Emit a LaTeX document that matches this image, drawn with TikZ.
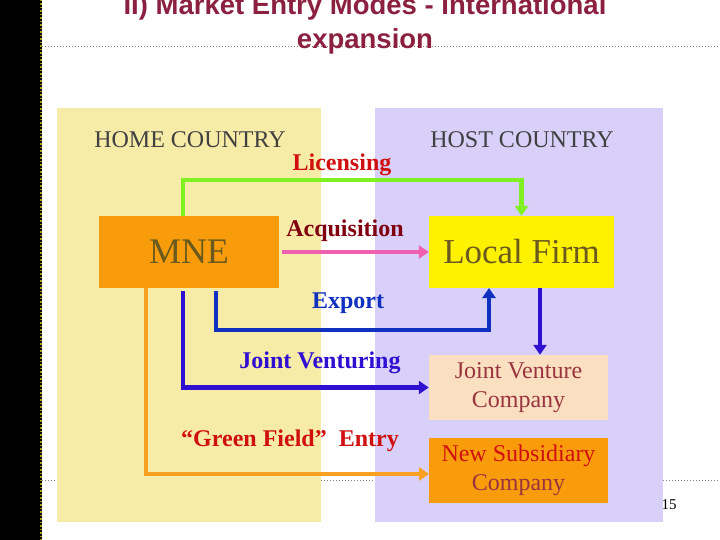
\documentclass[tikz,border=0pt]{standalone}
\usepackage{fontspec}
\setmainfont{Liberation Serif}
\newfontfamily\titlefont{Liberation Sans}
\usetikzlibrary{arrows.meta}
\definecolor{ttl}{HTML}{8B2040}
\definecolor{panY}{HTML}{F7EBA8}
\definecolor{panL}{HTML}{D8D0F8}
\definecolor{mneC}{HTML}{F89C0C}
\definecolor{olive}{HTML}{6B5A1E}
\definecolor{jvC}{HTML}{FAE0C0}
\definecolor{lic}{HTML}{80F020}
\definecolor{acq}{HTML}{F060B0}
\definecolor{exp}{HTML}{1030C0}
\definecolor{jvA}{HTML}{3010D0}
\definecolor{gf}{HTML}{F8A020}
\definecolor{redT}{HTML}{D01010}
\definecolor{darkred}{HTML}{800010}
\begin{document}
\begin{tikzpicture}[x=1pt,y=-1pt,
  lbl/.style={font=\fontsize{24}{26}\selectfont\bfseries},
  conn/.style={line width=4.5pt,-{Triangle[length=10pt,width=13pt]}}]
\useasboundingbox (0,0) rectangle (720,540);
\fill[white] (0,0) rectangle (720,540);
\fill[black] (0,0) rectangle (42,540);
\draw[olive!60!yellow, dotted, line width=1.5pt] (41,0) -- (41,540);
\draw[gray, dotted, line width=1pt] (42,47) -- (720,47);
\draw[gray, dotted, line width=1pt] (42,480) -- (720,480);
\node[text=ttl, font=\titlefont\fontsize{27.5}{34}\selectfont\bfseries, align=center] (title) at (365,24) {II) Market Entry Modes -  International\\expansion};
\fill[panY] (57,108) rectangle (321,522);
\fill[panL] (375,108) rectangle (663,522);
\node[text=black!75, font=\fontsize{24}{26}\selectfont] (home) at (190,140) {HOME COUNTRY};
\node[text=black!75, font=\fontsize{24}{26}\selectfont] (host) at (522,140) {HOST COUNTRY};
\node[fill=mneC, minimum width=180pt, minimum height=72pt, text=olive, font=\fontsize{36}{38}\selectfont, inner sep=0] (mne) at (189,252) {MNE};
\node[fill=yellow, minimum width=185pt, minimum height=72pt, text=olive, font=\fontsize{35}{37}\selectfont, inner sep=0] (lf) at (521.5,252) {Local Firm};
\node[fill=jvC, minimum width=179pt, minimum height=65pt, text=darkred!80, font=\fontsize{24}{29}\selectfont, align=center, inner sep=0] (jv) at (518.5,387.5) {Joint Venture\\Company};
\node[fill=mneC, minimum width=179pt, minimum height=65pt, text=redT, font=\fontsize{24}{29}\selectfont, align=center, inner sep=0] (ns) at (518.5,470.5) {New Subsidiary\\{\color{darkred!80}Company}};
\node[font=\fontsize{15}{17}\selectfont] (pg) at (669,505) {15};
% connectors
\draw[conn, lic] ([xshift=-6pt]mne.north) |- (183,180) -| (lf.north);
\node[lbl, text=redT] (llic) at (342,165) {Licensing};
\draw[conn, acq] (mne.east) ++(3,0) coordinate (a0) -- (lf.west);
\node[lbl, text=darkred] (lacq) at (345,231) {Acquisition};
\draw[conn, exp] (216,291) coordinate (e0) |- (489,330) -- (489,288);
\node[lbl, text=exp] (lexp) at (348,303) {Export};
\draw[conn, jvA] (183,291) coordinate (j0) |- (jv.west);
\node[lbl, text=jvA] (ljv) at (320,363) {Joint Venturing};
\draw[conn, jvA] (540,288) -- (jv.north -| 540,0);
\draw[conn, gf] (146,288) coordinate (g0) |- (429,474);
\node[lbl, text=redT] (lgf) at (290,441) {``Green Field''\ \ Entry};
\end{tikzpicture}
\end{document}
